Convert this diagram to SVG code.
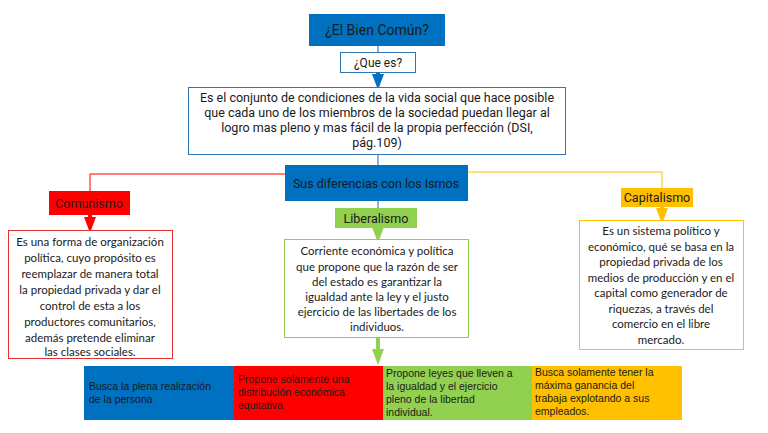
<svg xmlns="http://www.w3.org/2000/svg" width="768" height="433" viewBox="0 0 768 433">
<style>
.r{font-family:Roboto,"Liberation Sans",sans-serif;fill:#1a1a1a}
.c{font-family:Lato,"Open Sans",sans-serif;font-size:11.5px;fill:#1a1a1a;text-anchor:middle}
.s{font-family:"Liberation Sans",Arial,sans-serif;font-size:10.5px;fill:#1a1a1a}
</style>
<defs>
<marker id="ab" markerWidth="4" markerHeight="3" refX="2" refY="1.5" orient="auto" markerUnits="strokeWidth"><path d="M0,0L4,1.5L0,3z" fill="#0070c0"/></marker>
<marker id="ar" markerWidth="4" markerHeight="3" refX="2" refY="1.5" orient="auto" markerUnits="strokeWidth"><path d="M0,0L4,1.5L0,3z" fill="#ff0000"/></marker>
<marker id="ag" markerWidth="4" markerHeight="3" refX="2" refY="1.5" orient="auto" markerUnits="strokeWidth"><path d="M0,0L4,1.5L0,3z" fill="#92d050"/></marker>
<marker id="ay" markerWidth="4" markerHeight="3" refX="2" refY="1.5" orient="auto" markerUnits="strokeWidth"><path d="M0,0L4,1.5L0,3z" fill="#ffc000"/></marker>
</defs>
<rect width="768" height="433" fill="#fff"/>
<g id="connectors" fill="none">
<line x1="378" y1="46" x2="378" y2="52" stroke="#0070c0"/>
<line x1="378" y1="72" x2="378" y2="82" stroke="#0070c0" stroke-width="4" marker-end="url(#ab)"/>
<line x1="378" y1="154" x2="378" y2="165" stroke="#0070c0" stroke-width="1"/>
<polyline points="285,174 90,174 90,191" stroke="#ff0000"/>
<line x1="90" y1="215" x2="90" y2="225" stroke="#ff0000" stroke-width="4" marker-end="url(#ar)"/>
<line x1="378" y1="201" x2="378" y2="208" stroke="#0070c0"/>
<line x1="378" y1="228" x2="378" y2="235" stroke="#92d050" stroke-width="4" marker-end="url(#ag)"/>
<line x1="378" y1="337" x2="378" y2="357" stroke="#92d050" stroke-width="4" marker-end="url(#ag)"/>
<polyline points="468,172 662,172 662,188" stroke="#ffc000"/>
<line x1="662" y1="207" x2="662" y2="216" stroke="#ffc000" stroke-width="4" marker-end="url(#ay)"/>
</g>
<g id="title"><rect x="309" y="14" width="136" height="32" fill="#0070c0"/><text class="r" x="377" y="35" font-size="14" text-anchor="middle">¿El Bien Común?</text></g>
<g id="quees"><rect x="340.5" y="52.5" width="75" height="20" fill="#fff" stroke="#2e75b6"/><text class="r" x="378" y="67" font-size="12" text-anchor="middle">¿Que es?</text></g>
<g id="def"><rect x="188.5" y="87.5" width="377" height="67" fill="#fff" stroke="#2e75b6"/>
<text class="r" font-size="12.5" text-anchor="middle"><tspan x="377" y="102">Es el conjunto de condiciones de la vida social que hace posible</tspan><tspan x="377" y="117">que cada uno de los miembros de la sociedad puedan llegar al</tspan><tspan x="377" y="132">logro mas pleno y mas fácil de la propia perfección (DSI,</tspan><tspan x="377" y="147">pág.109)</tspan></text></g>
<g id="dif"><rect x="285" y="165" width="183" height="36" fill="#0070c0"/><text class="r" x="376" y="188" font-size="12.5" text-anchor="middle">Sus diferencias con los Ismos</text></g>
<g id="comunismo"><rect x="49" y="191" width="81" height="24" fill="#ff0000"/><text class="r" x="89" y="208" font-size="12.5" text-anchor="middle">Comunismo</text></g>
<g id="comtext"><rect x="8.5" y="230.5" width="164" height="128" fill="#fff" stroke="#e03030"/>
<text class="c"><tspan x="90" y="246">Es una forma de organización</tspan><tspan x="90" y="262">política, cuyo propósito es</tspan><tspan x="90" y="278">reemplazar de manera total</tspan><tspan x="90" y="294">la propiedad privada y dar el</tspan><tspan x="90" y="310">control de esta a los</tspan><tspan x="90" y="326">productores comunitarios,</tspan><tspan x="90" y="342">además pretende eliminar</tspan><tspan x="90" y="356">las clases sociales.</tspan></text></g>
<g id="liberalismo"><rect x="335" y="208" width="82" height="20" fill="#92d050"/><text class="r" x="376" y="223" font-size="12.5" text-anchor="middle">Liberalismo</text></g>
<g id="libtext"><rect x="284.5" y="239.5" width="184" height="98" fill="#fff" stroke="#92d050"/>
<text class="c"><tspan x="377" y="255">Corriente económica y política</tspan><tspan x="377" y="271">que propone que la razón de ser</tspan><tspan x="377" y="286">del estado es  garantizar la</tspan><tspan x="377" y="301">igualdad ante la ley y el justo</tspan><tspan x="377" y="316">ejercicio de las libertades de los</tspan><tspan x="377" y="331">individuos.</tspan></text></g>
<g id="capitalismo"><rect x="621" y="188" width="72" height="19" fill="#ffc000"/><text class="r" x="657" y="202" font-size="12.5" text-anchor="middle">Capitalismo</text></g>
<g id="captext"><rect x="579.5" y="220.5" width="164" height="129" fill="#fff" stroke="#ffc000"/>
<text class="c"><tspan x="661" y="235">Es un sistema político y</tspan><tspan x="661" y="251">económico, qué se basa en la</tspan><tspan x="661" y="266">propiedad privada de  los</tspan><tspan x="661" y="282">medios de producción y en el</tspan><tspan x="661" y="297">capital como generador de</tspan><tspan x="661" y="313">riquezas, a través del</tspan><tspan x="661" y="328">comercio en el libre</tspan><tspan x="661" y="344">mercado.</tspan></text></g>
<g id="b1"><rect x="84" y="366" width="150" height="54" fill="#0070c0"/><text class="s"><tspan x="89" y="390">Busca la plena realización</tspan><tspan x="89" y="403">de la persona</tspan></text></g>
<g id="b2"><rect x="234" y="366" width="149" height="54" fill="#ff0000"/><text class="s"><tspan x="238" y="383">Propone   solamente   una</tspan><tspan x="238" y="396">distribución       económica</tspan><tspan x="238" y="409">equitativa</tspan></text></g>
<g id="b3"><rect x="383" y="366" width="149" height="54" fill="#92d050"/><text class="s"><tspan x="386" y="377">Propone leyes que lleven a</tspan><tspan x="386" y="390">la igualdad y el ejercicio</tspan><tspan x="386" y="403">pleno    de    la    libertad</tspan><tspan x="386" y="416">individual.</tspan></text></g>
<g id="b4"><rect x="532" y="366" width="150" height="54" fill="#ffc000"/><text class="s"><tspan x="535" y="376">Busca solamente tener la</tspan><tspan x="535" y="389">máxima ganancia del</tspan><tspan x="535" y="402">trabaja explotando a sus</tspan><tspan x="535" y="415">empleados.</tspan></text></g>
</svg>
